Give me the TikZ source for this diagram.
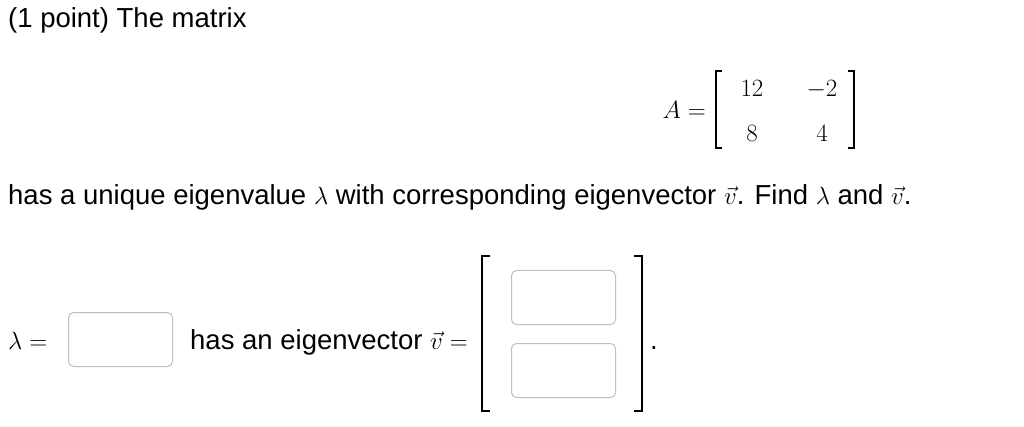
\documentclass[tikz,border=0pt]{standalone}
\usepackage{fontspec}
\setmainfont{Liberation Sans}
\begin{document}
\begin{tikzpicture}[x=1pt,y=-1pt,
  txt/.style={anchor=base west,inner sep=0pt,font=\fontsize{27.5}{31}\selectfont},
  mth/.style={inner sep=0pt,font=\fontsize{37}{40}\selectfont},
  ansbox/.style={draw=black!25,line width=1pt,rounded corners=5pt,minimum width=104pt,minimum height=54pt,inner sep=0pt,fill=white},
  brk/.style={line width=1.2pt}]
\useasboundingbox (0,0) rectangle (1024,427);
\node[txt] (t1) at (8,28) {(1 point) The matrix};
\node[mth,anchor=base east] (eqA) at (706,119) {$A=$};
\draw[brk] (722,71) -- (716,71) -- (716,148) -- (722,148);
\draw[brk] (848,71) -- (854,71) -- (854,148) -- (848,148);
\node[mth,anchor=base] (a11) at (752,97) {$12$};
\node[mth,anchor=base] (a12) at (822,97) {$-2$};
\node[mth,anchor=base] (a21) at (752,142) {$8$};
\node[mth,anchor=base] (a22) at (822,142) {$4$};
\node[txt] (t2) at (8,205) {has a unique eigenvalue $\lambda$ with corresponding eigenvector $\vec{v}$. Find $\lambda$ and $\vec{v}$.};
\node[txt] (lam) at (8,349) {$\lambda=$};
\node[ansbox,anchor=north west] (b1) at (68,312) {};
\node[txt] (t3) at (190,349) {has an eigenvector $\vec{v}=$};
\draw[brk] (490,256) -- (482,256) -- (482,411) -- (490,411);
\draw[brk] (634,256) -- (642,256) -- (642,411) -- (634,411);
\node[ansbox,anchor=north west] (b2) at (511,270) {};
\node[ansbox,anchor=north west] (b3) at (511,343) {};
\node[txt] (dot) at (650,349) {.};
\end{tikzpicture}
\end{document}
